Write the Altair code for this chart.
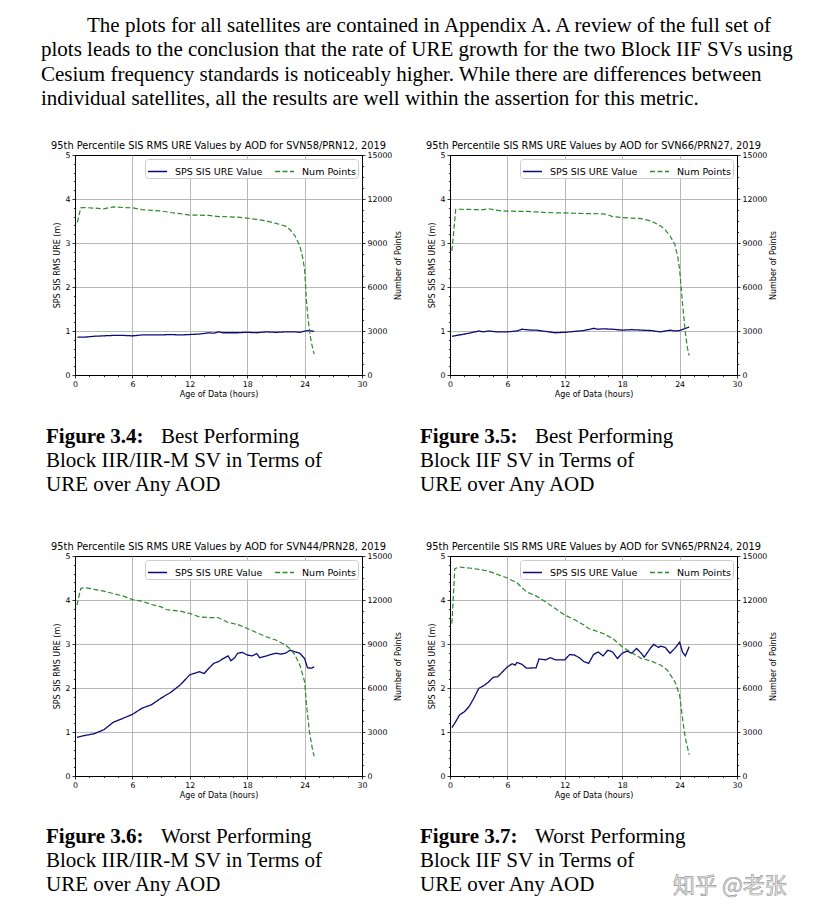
import altair as alt
import pandas as pd

# ---------------- text content ----------------
para_lines = [
    "The plots for all satellites are contained in Appendix A. A review of the full set of",
    "plots leads to the conclusion that the rate of URE growth for the two Block IIF SVs using",
    "Cesium frequency standards is noticeably higher.  While there are differences between",
    "individual satellites, all the results are well within the assertion for this metric.",
]
fig_labels = ["Figure 3.4:", "Figure 3.5:", "Figure 3.6:", "Figure 3.7:"]
fig_line1 = ["Best Performing", "Best Performing", "Worst Performing", "Worst Performing"]
fig_line2 = ["Block IIR/IIR-M SV in Terms of", "Block IIF SV in Terms of",
             "Block IIR/IIR-M SV in Terms of", "Block IIF SV in Terms of"]
fig_line3 = ["URE over Any AOD", "URE over Any AOD", "URE over Any AOD", "URE over Any AOD"]
watermark = ["知乎 @老张"]

panel_titles = [
    "95th Percentile SIS RMS URE Values by AOD for SVN58/PRN12, 2019",
    "95th Percentile SIS RMS URE Values by AOD for SVN66/PRN27, 2019",
    "95th Percentile SIS RMS URE Values by AOD for SVN44/PRN28, 2019",
    "95th Percentile SIS RMS URE Values by AOD for SVN65/PRN24, 2019",
]
series_names = ["SPS SIS URE Value", "Num Points"]
x_title = "Age of Data (hours)"
y_left_title = "SPS SIS RMS URE (m)"
y_right_title = "Number of Points"

x_ticks = [0, 1.5, 3, 4.5, 6, 7.5, 9, 10.5, 12, 13.5, 15, 16.5, 18, 19.5, 21, 22.5, 24, 25.5, 27, 28.5, 30]
yr_ticks = [0, 750, 1500, 2250, 3000, 3750, 4500, 5250, 6000, 6750, 7500, 8250, 9000,
            9750, 10500, 11250, 12000, 12750, 13500, 14250, 15000]

# ---------------- data ----------------
# Panel 1: SVN58/PRN12
p1_ure_x = [0.25, 1, 2, 3, 4, 5, 6, 7, 8, 9, 10, 11, 12, 13, 14, 14.5, 15, 15.5, 16, 17, 18, 19,
            20, 21, 22, 23, 23.5, 24, 24.5, 25]
p1_ure_y = [0.86, 0.86, 0.88, 0.89, 0.90, 0.90, 0.89, 0.91, 0.91, 0.91, 0.92, 0.91, 0.92, 0.93,
            0.96, 0.95, 0.98, 0.96, 0.96, 0.96, 0.97, 0.96, 0.98, 0.97, 0.98, 0.98, 0.97, 1.00,
            1.01, 0.99]
p1_np_x = [0.25, 0.6, 1, 2, 3, 4, 5, 6, 7, 8, 9, 10, 11, 12, 13, 14, 15, 16, 17, 18, 19, 20, 21,
           22, 22.5, 23, 23.5, 23.8, 24, 24.2, 24.4, 24.6, 24.8, 25]
p1_np_y = [10400, 11400, 11420, 11380, 11330, 11460, 11420, 11400, 11280, 11230, 11180, 11080,
           11000, 10900, 10900, 10880, 10800, 10790, 10760, 10690, 10610, 10500, 10340, 10150,
           9900, 9480, 8800, 8000, 7200, 5000, 3600, 2600, 1950, 1430]

# Panel 2: SVN66/PRN27
p2_ure_x = [0.2, 1, 2, 3, 3.5, 4, 5, 6, 7, 7.5, 8, 8.5, 9, 10, 11, 12, 13, 14, 15, 15.5, 16, 17,
            18, 19, 20, 21, 22, 23, 23.5, 24, 24.5, 25]
p2_ure_y = [0.88, 0.91, 0.95, 1.00, 0.98, 1.00, 0.98, 0.98, 1.00, 1.04, 1.03, 1.02, 1.02, 0.99,
            0.96, 0.97, 0.99, 1.01, 1.06, 1.04, 1.05, 1.04, 1.02, 1.03, 1.02, 1.01, 0.98, 1.02,
            1.00, 1.01, 1.05, 1.09]
p2_np_x = [0.2, 0.6, 1, 2, 3, 3.5, 4, 5, 6, 7, 8, 9, 10, 11, 12, 13, 14, 15, 16, 16.5, 17, 18,
           19, 20, 21, 22, 22.5, 23, 23.5, 23.8, 24, 24.3, 24.6, 24.8, 25]
p2_np_y = [8450, 11300, 11300, 11290, 11270, 11280, 11340, 11220, 11180, 11160, 11150, 11120,
           11080, 11060, 11050, 11030, 11010, 11000, 10990, 10920, 10800, 10740, 10700, 10660,
           10500, 10170, 9900, 9480, 8900, 8100, 7200, 4900, 2900, 1900, 1320]

# Panel 3: SVN44/PRN28
p3_ure_x = [0.2, 1, 2, 3, 4, 5, 6, 7, 8, 9, 10, 11, 12, 13, 13.5, 14, 14.5, 15, 15.5, 16, 16.3,
            16.7, 17, 17.5, 18, 18.5, 19, 19.3, 20, 21, 21.5, 22, 22.5, 23, 23.5, 24, 24.3,
            24.7, 25]
p3_ure_y = [0.88, 0.92, 0.96, 1.05, 1.22, 1.31, 1.40, 1.54, 1.62, 1.77, 1.90, 2.07, 2.30, 2.37,
            2.33, 2.45, 2.56, 2.60, 2.67, 2.73, 2.62, 2.69, 2.79, 2.81, 2.75, 2.73, 2.78, 2.69,
            2.73, 2.79, 2.77, 2.79, 2.86, 2.82, 2.79, 2.67, 2.46, 2.45, 2.48]
p3_np_x = [0.2, 0.6, 1, 2, 3, 4, 5, 6, 7, 8, 9, 9.5, 11, 12, 13, 14, 15, 16, 17, 18, 19, 20, 21,
           22, 22.5, 23, 23.5, 24, 24.2, 24.5, 24.8, 25]
p3_np_y = [11650, 12780, 12850, 12730, 12600, 12440, 12280, 12030, 11920, 11690, 11530, 11350,
           11240, 11080, 10850, 10800, 10790, 10470, 10330, 10060, 9770, 9490, 9270, 8930,
           8660, 8250, 7570, 6440, 4850, 3040, 1900, 1340]

# Panel 4: SVN65/PRN24
p4_ure_x = [0.2, 0.5, 1, 1.5, 2, 2.5, 3, 3.5, 4, 4.5, 5, 5.5, 6, 6.5, 6.8, 7, 7.5, 8, 9, 9.3, 10,
            10.5, 11, 12, 12.5, 13, 13.5, 14, 14.5, 15, 15.5, 16, 16.5, 17, 17.5, 18, 18.5, 19,
            19.5, 20, 20.3, 21, 21.3, 21.8, 22, 22.5, 23, 23.5, 24, 24.3, 24.6, 25]
p4_ure_y = [1.10, 1.20, 1.39, 1.46, 1.58, 1.77, 1.99, 2.05, 2.13, 2.24, 2.26, 2.37, 2.48, 2.55,
            2.52, 2.58, 2.54, 2.45, 2.46, 2.66, 2.64, 2.69, 2.64, 2.64, 2.76, 2.75, 2.69, 2.60,
            2.56, 2.76, 2.82, 2.73, 2.86, 2.82, 2.67, 2.79, 2.84, 2.79, 2.90, 2.79, 2.70, 2.92,
            2.99, 2.92, 2.95, 2.92, 2.79, 2.90, 3.04, 2.82, 2.73, 2.94]
p4_np_x = [0.2, 0.5, 1, 2, 3, 4, 5, 6, 7, 8, 9, 10, 11, 12, 13, 14, 14.5, 15, 16, 17, 18, 19,
           20, 21, 22, 22.7, 23, 23.5, 24, 24.3, 24.6, 25]
p4_np_y = [10400, 14140, 14250, 14180, 14090, 13980, 13730, 13500, 13170, 12550, 12280, 11870,
           11420, 10970, 10670, 10290, 10060, 9950, 9720, 9380, 8810, 8410, 8020, 7840, 7570,
           7230, 6930, 6440, 5530, 3940, 2580, 1450]

# ---------------- styling ----------------
NAVY = "#0b0b78"
GREEN = "#2a8a2a"
SANS = "DejaVu Sans"
SERIF = "Liberation Serif"
PW, PH = 287, 220
TXT = 21

INT_TEST = "abs(datum.value - round(datum.value)) < 0.001"


def cond(test, a, b):
    return {"condition": {"test": test, "value": a}, "value": b}


x_axis = alt.Axis(
    values=x_ticks, tickCount=100, format="d", title=x_title,
    labelExpr="datum.value % 6 === 0 ? datum.label : ''",
    tickSize=cond("datum.value % 6 === 0", 3, 1.6),
    gridOpacity=cond("datum.value % 6 === 0 && datum.value > 0 && datum.value < 30", 1, 0),
    grid=True, labelFlush=False, labelOverlap=False,
    labelPadding=2, titlePadding=3,
)
# left axis: ticks every 0.2 from the scale itself, labels/grid only on whole metres
yl_axis = alt.Axis(
    tickCount=25, title=y_left_title, orient="left",
    labelExpr=INT_TEST.replace("datum.value", "datum.value") + " ? format(datum.value, 'd') : ''",
    tickSize=cond(INT_TEST, 3, 1.6),
    gridOpacity=cond(INT_TEST + " && datum.value > 0.5 && datum.value < 4.5", 1, 0),
    grid=True, labelOverlap=False, labelPadding=2, titlePadding=4,
)
yr_axis = alt.Axis(
    values=yr_ticks, tickCount=100, format="d", title=y_right_title, orient="right",
    labelExpr="datum.value % 3000 === 0 ? datum.label : ''",
    tickSize=cond("datum.value % 3000 === 0", 3, 1.6),
    grid=False, labelOverlap=False, labelPadding=2, titlePadding=11, titleAngle=270,
)

color_scale = alt.Scale(domain=series_names, range=[NAVY, GREEN])
dash_scale = alt.Scale(domain=series_names, range=[[1, 0], [5, 2.5]])
leg = alt.Legend(title=None)


def panel(title, ux, uy, nx, ny):
    d1 = pd.DataFrame({"aod": ux, "ure": uy, "series": series_names[0]})
    d2 = pd.DataFrame({"aod": nx, "npts": ny, "series": series_names[1]})
    xenc = alt.X("aod:Q", scale=alt.Scale(domain=[0, 30], nice=False, zero=False), axis=x_axis)
    l1 = alt.Chart(d1).mark_line(strokeWidth=1.3).encode(
        x=xenc,
        y=alt.Y("ure:Q", scale=alt.Scale(domain=[0, 5], nice=False), axis=yl_axis),
        color=alt.Color("series:N", scale=color_scale, legend=leg),
        strokeDash=alt.StrokeDash("series:N", scale=dash_scale, legend=leg),
    )
    l2 = alt.Chart(d2).mark_line(strokeWidth=1.2).encode(
        x=xenc,
        y=alt.Y("npts:Q", scale=alt.Scale(domain=[0, 15000], nice=False), axis=yr_axis),
        color=alt.Color("series:N", scale=color_scale, legend=leg),
        strokeDash=alt.StrokeDash("series:N", scale=dash_scale, legend=leg),
    )
    return alt.layer(l1, l2).resolve_scale(y="independent").properties(
        width=PW, height=PH,
        title=alt.TitleParams(title, font=SANS, fontSize=9.8, fontWeight="normal",
                              color="black", offset=0),
        view=alt.ViewBackground(stroke="black", strokeWidth=1),
    )


def txt(t, x, y, weight="normal", size=TXT, font=SERIF, color="black", **kw):
    return alt.Chart(pd.DataFrame({"t": [t]})).mark_text(
        align="left", baseline="alphabetic", font=font, fontSize=size,
        fontWeight=weight, color=color, **kw
    ).encode(x=alt.value(x), y=alt.value(y), text="t:N")


# paragraph (placed in the left cell of the first grid row; origin = left plot edge)
para = alt.layer(
    txt(para_lines[0], 12, 23),
    txt(para_lines[1], -34, 47.3),
    txt(para_lines[2], -34, 71.6),
    txt(para_lines[3], -34, 96),
).properties(width=PW, height=146)
blank_top = txt("", 0, 100).properties(width=PW, height=146)


def caption(k, x0, base, height, extra=None):
    layers = [
        txt(fig_labels[k], x0, base, weight="bold"),
        txt(fig_line1[k], x0 + 115, base),
        txt(fig_line2[k], x0, base + 24),
        txt(fig_line3[k], x0, base + 48),
    ]
    if extra is not None:
        layers.extend(extra)
    return alt.layer(*layers).properties(width=PW, height=height)


cap_a = caption(0, -29, 68, 181)
cap_b = caption(1, -30, 68, 181)
cap_c = caption(2, -29, 67, 125)
wm = txt(watermark[0], 223, 117, size=22, font="Noto Sans CJK SC", color="#f2f2f2",
         stroke="#9a9a9a", strokeWidth=0.7)
cap_d = caption(3, -30, 67, 125, extra=[wm])

p1 = panel(panel_titles[0], p1_ure_x, p1_ure_y, p1_np_x, p1_np_y)
p2 = panel(panel_titles[1], p2_ure_x, p2_ure_y, p2_np_x, p2_np_y)
p3 = panel(panel_titles[2], p3_ure_x, p3_ure_y, p3_np_x, p3_np_y)
p4 = panel(panel_titles[3], p4_ure_x, p4_ure_y, p4_np_x, p4_np_y)

chart = alt.concat(
    para, blank_top,
    p1, p2,
    cap_a, cap_b,
    p3, p4,
    cap_c, cap_d,
    columns=2, spacing={"row": 0, "column": 88}, bounds="flush",
).resolve_scale(
    color="independent", strokeDash="independent"
).properties(
    padding={"left": 32, "top": 0, "right": 4, "bottom": 4},
    background="white",
).configure_view(
    stroke="transparent"
).configure_axis(
    labelFont=SANS, labelFontSize=7.8, labelColor="black",
    titleFont=SANS, titleFontSize=8, titleFontWeight="normal", titleColor="black",
    domainColor="black", domainWidth=1, tickColor="black", tickWidth=0.8,
    gridColor="#b0b0b0", gridWidth=0.9,
).configure_legend(
    orient="top-right", direction="horizontal", offset=4, padding=2,
    fillColor="white", strokeColor="#cccccc", cornerRadius=3,
    labelFont=SANS, labelFontSize=9.5, labelColor="black", labelOffset=7,
    symbolType="stroke", symbolSize=361, symbolStrokeWidth=1.3, columnPadding=9,
)

chart.save("out.html", embed_options={"renderer": "svg", "actions": False})
